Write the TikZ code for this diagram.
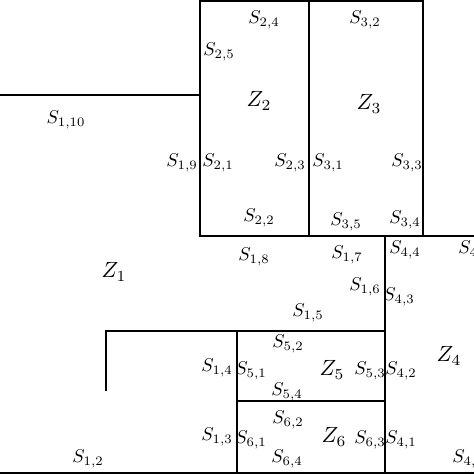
\documentclass[tikz,border=0pt]{standalone}
\usepackage{graphicx}
\newcommand{\SL}[1]{\scalebox{1.85}{$#1$}}
\newcommand{\ZL}[1]{\scalebox{2.2}{$#1$}}
\tikzset{
  wall/.style={line width=1.8pt, line cap=rect},
  slab/.style={inner sep=0pt},
  zlab/.style={inner sep=0pt}
}
\begin{document}
\begin{tikzpicture}[x=1pt,y=-1pt]
\useasboundingbox (0,0) rectangle (474,474);
\clip (0,0) rectangle (474,474);
% walls
\draw[wall] (0,95) -- (200,95);
\draw[wall] (200,1) -- (423,1);
\draw[wall] (200,1) -- (200,236);
\draw[wall] (309,1) -- (309,236);
\draw[wall] (423,1) -- (423,236);
\draw[wall] (200,236) -- (480,236);
\draw[wall] (385,236) -- (385,473);
\draw[wall] (106,390) -- (106,331) -- (385,331);
\draw[wall] (237,331) -- (237,473);
\draw[wall] (237,401) -- (385,401);
\draw[wall] (-5,473) -- (480,473);
% zone labels
\node[zlab] (z1) at (114,272) {\ZL{Z_1}};
\node[zlab] (z2) at (259,101) {\ZL{Z_2}};
\node[zlab] (z3) at (369,104) {\ZL{Z_3}};
\node[zlab] (z4) at (449,356) {\ZL{Z_4}};
\node[zlab] (z5) at (332,370) {\ZL{Z_5}};
\node[zlab] (z6) at (334,437) {\ZL{Z_6}};
% surface labels
\node[slab] (s24) at (264,20) {\SL{S_{2,4}}};
\node[slab] (s25) at (219,52) {\SL{S_{2,5}}};
\node[slab] (s32) at (365,20) {\SL{S_{3,2}}};
\node[slab] (s110) at (66,120) {\SL{S_{1,10}}};
\node[slab] (s19) at (182,163) {\SL{S_{1,9}}};
\node[slab] (s21) at (218,163) {\SL{S_{2,1}}};
\node[slab] (s23) at (290,163) {\SL{S_{2,3}}};
\node[slab] (s31) at (328,163) {\SL{S_{3,1}}};
\node[slab] (s33) at (407,163) {\SL{S_{3,3}}};
\node[slab] (s22) at (259,218) {\SL{S_{2,2}}};
\node[slab] (s35) at (346,222) {\SL{S_{3,5}}};
\node[slab] (s34) at (405,220) {\SL{S_{3,4}}};
\node[slab] (s18) at (254,257) {\SL{S_{1,8}}};
\node[slab] (s17) at (347,255) {\SL{S_{1,7}}};
\node[slab] (s44) at (405,250) {\SL{S_{4,4}}};
\node[slab] (s45) at (474,250) {\SL{S_{4,5}}};
\node[slab] (s16) at (365,287) {\SL{S_{1,6}}};
\node[slab] (s43) at (399,297) {\SL{S_{4,3}}};
\node[slab] (s15) at (308,313) {\SL{S_{1,5}}};
\node[slab] (s14) at (217,368) {\SL{S_{1,4}}};
\node[slab] (s52) at (288,344) {\SL{S_{5,2}}};
\node[slab] (s51) at (251,371) {\SL{S_{5,1}}};
\node[slab] (s53) at (370,371) {\SL{S_{5,3}}};
\node[slab] (s42) at (401,371) {\SL{S_{4,2}}};
\node[slab] (s54) at (287,392) {\SL{S_{5,4}}};
\node[slab] (s62) at (288,420) {\SL{S_{6,2}}};
\node[slab] (s13) at (217,437) {\SL{S_{1,3}}};
\node[slab] (s61) at (251,440) {\SL{S_{6,1}}};
\node[slab] (s63) at (370,440) {\SL{S_{6,3}}};
\node[slab] (s41) at (401,440) {\SL{S_{4,1}}};
\node[slab] (s64) at (287,459) {\SL{S_{6,4}}};
\node[slab] (s12) at (88,459) {\SL{S_{1,2}}};
\node[slab] (s46) at (468,459) {\SL{S_{4,6}}};
\end{tikzpicture}
\end{document}
